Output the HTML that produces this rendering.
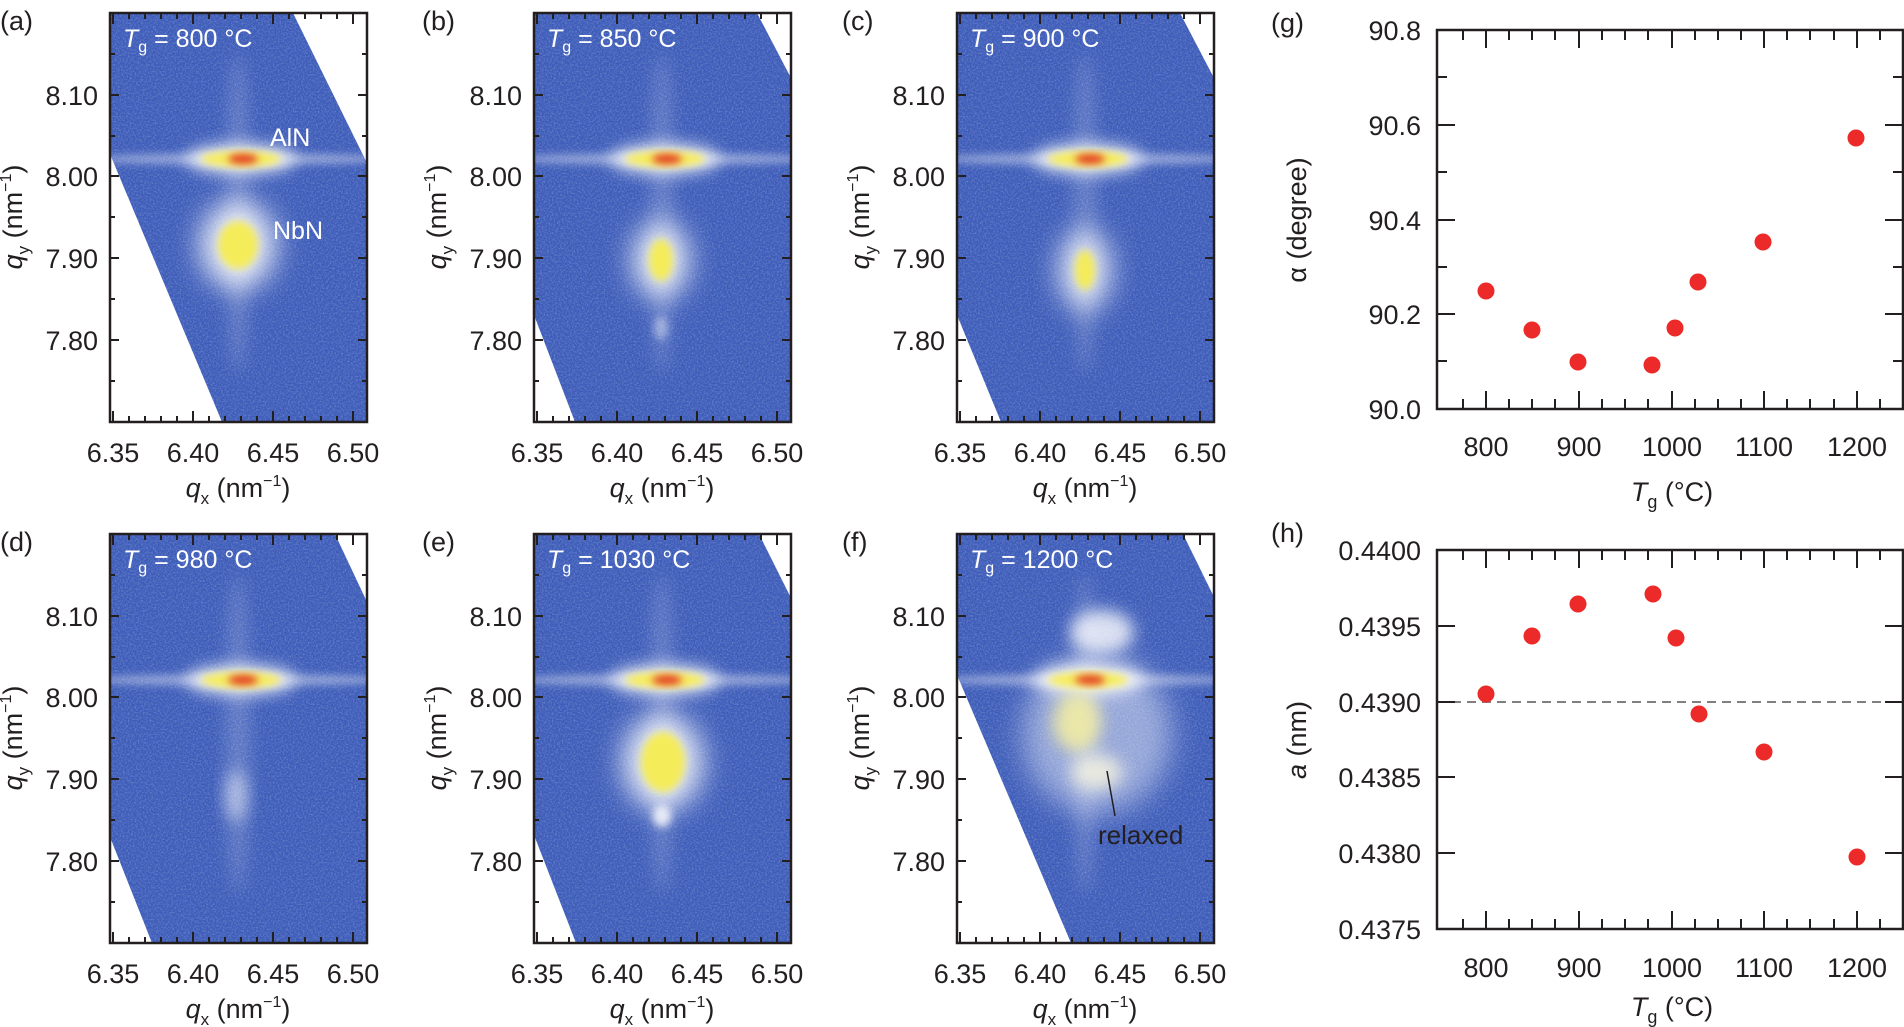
<!DOCTYPE html>
<html><head><meta charset="utf-8"><style>
html,body{margin:0;padding:0;background:#fff;}
svg{display:block;font-family:"Liberation Sans",sans-serif;}
.t{font-size:27px;fill:#231f20;}
.w{font-size:25px;fill:#fff;}
</style></head><body>
<svg width="1904" height="1027" viewBox="0 0 1904 1027" xmlns="http://www.w3.org/2000/svg">
<defs>
<filter id="b4" x="-50%" y="-50%" width="200%" height="200%"><feGaussianBlur stdDeviation="4"/></filter>
<filter id="b8" x="-50%" y="-50%" width="200%" height="200%"><feGaussianBlur stdDeviation="8"/></filter>
<filter id="b14" x="-50%" y="-50%" width="200%" height="200%"><feGaussianBlur stdDeviation="14"/></filter>
<filter id="noise"><feTurbulence type="fractalNoise" baseFrequency="0.6" numOctaves="2" seed="3"/><feColorMatrix type="matrix" values="0 0 0 0 1  0 0 0 0 1  0 0 0 0 1  0 0 0 1.4 -0.55"/></filter>
<clipPath id="box"><rect x="0" y="0" width="257" height="409"/></clipPath>
<g id="frame">
<rect x="0" y="0" width="257" height="409" fill="none" stroke="#231f20" stroke-width="2.5"/>
<path stroke="#231f20" stroke-width="2" fill="none" d="
M0 82h9M0 163h9M0 245h9M0 327h9M257 82h-9M257 163h-9M257 245h-9M257 327h-9
M0 41h5M0 123h5M0 204h5M0 286h5M0 368h5M257 41h-5M257 123h-5M257 204h-5M257 286h-5M257 368h-5
M3 409v-11M83 409v-11M163 409v-11M243 409v-11M3 0v11M83 0v11M163 0v11M243 0v11
M19 409v-6M35 409v-6M51 409v-6M67 409v-6M99 409v-6M115 409v-6M131 409v-6M147 409v-6M179 409v-6M195 409v-6M211 409v-6M227 409v-6
M19 0v6M35 0v6M51 0v6M67 0v6M99 0v6M115 0v6M131 0v6M147 0v6M179 0v6M195 0v6M211 0v6M227 0v6"/>
</g>
<g id="axl">
<text class="t" x="-12" y="92" text-anchor="end">8.10</text>
<text class="t" x="-12" y="173" text-anchor="end">8.00</text>
<text class="t" x="-12" y="255" text-anchor="end">7.90</text>
<text class="t" x="-12" y="337" text-anchor="end">7.80</text>
<text class="t" x="3" y="449" text-anchor="middle">6.35</text>
<text class="t" x="83" y="449" text-anchor="middle">6.40</text>
<text class="t" x="163" y="449" text-anchor="middle">6.45</text>
<text class="t" x="243" y="449" text-anchor="middle">6.50</text>
<text class="t" x="128" y="484" text-anchor="middle"><tspan font-style="italic">q</tspan><tspan font-size="17" dy="7">x</tspan><tspan dy="-7"> (nm</tspan><tspan font-size="16" dy="-11">−1</tspan><tspan dy="11">)</tspan></text>
<text class="t" transform="translate(-88,204) rotate(-90)" text-anchor="middle"><tspan font-style="italic">q</tspan><tspan font-size="17" dy="7">y</tspan><tspan dy="-7"> (nm</tspan><tspan font-size="16" dy="-11">−1</tspan><tspan dy="11">)</tspan></text>
</g>
<g id="alnstreak">
<ellipse cx="131" cy="146" rx="150" ry="6" fill="#fff" opacity="0.4" filter="url(#b4)"/>
<ellipse cx="131" cy="146" rx="55" ry="15" fill="#fff" opacity="0.85" filter="url(#b8)"/>
<ellipse cx="128" cy="200" rx="12" ry="160" fill="#fff" opacity="0.18" filter="url(#b8)"/>
<ellipse cx="131" cy="146" rx="40" ry="8" fill="#f6ec5a" filter="url(#b4)"/>
<ellipse cx="133" cy="146" rx="15" ry="5" fill="#e23a22" filter="url(#b4)"/>
</g>
</defs>

<g transform="translate(110,13)">
<g clip-path="url(#box)">
<rect width="257" height="409" fill="#3d5cb9"/>
<rect width="257" height="409" filter="url(#noise)" opacity="0.35"/>
<use href="#alnstreak"/>
<ellipse cx="128" cy="232" rx="38" ry="44" fill="#fff" opacity="0.85" filter="url(#b14)"/>
<ellipse cx="128" cy="232" rx="20" ry="24" fill="#f4ec58" filter="url(#b4)"/>
<polygon points="0,141 0,409 112,409" fill="#fff"/>
<polygon points="183,0 257,0 257,150" fill="#fff"/>
</g>
<use href="#frame"/><use href="#axl"/>
<text class="w" x="13" y="34"><tspan font-style="italic">T</tspan><tspan font-size="16" dy="5">g</tspan><tspan dy="-5"> = 800 °C</tspan></text>
<text class="w" x="160" y="133" font-size="27">AlN</text>
<text class="w" x="163" y="226" font-size="27">NbN</text>
</g>
<text class="t" x="0" y="30" font-size="29">(a)</text>

<g transform="translate(534,13)">
<g clip-path="url(#box)">
<rect width="257" height="409" fill="#3d5cb9"/>
<rect width="257" height="409" filter="url(#noise)" opacity="0.35"/>
<use href="#alnstreak"/>
<ellipse cx="127" cy="247" rx="28" ry="38" fill="#fff" opacity="0.85" filter="url(#b14)"/>
<ellipse cx="127" cy="247" rx="12" ry="21" fill="#f4ec58" filter="url(#b4)"/>
<ellipse cx="127" cy="315" rx="7" ry="12" fill="#fff" opacity="0.4" filter="url(#b4)"/>
<polygon points="0,302 0,409 41,409" fill="#fff"/>
<polygon points="223,0 257,0 257,65" fill="#fff"/>
</g>
<use href="#frame"/><use href="#axl"/>
<text class="w" x="13" y="34"><tspan font-style="italic">T</tspan><tspan font-size="16" dy="5">g</tspan><tspan dy="-5"> = 850 °C</tspan></text>
</g>
<text class="t" x="422" y="30" font-size="29">(b)</text>

<g transform="translate(957,13)">
<g clip-path="url(#box)">
<rect width="257" height="409" fill="#3d5cb9"/>
<rect width="257" height="409" filter="url(#noise)" opacity="0.35"/>
<use href="#alnstreak"/>
<ellipse cx="128" cy="257" rx="26" ry="40" fill="#fff" opacity="0.8" filter="url(#b14)"/>
<ellipse cx="128" cy="257" rx="10" ry="20" fill="#f4ec58" filter="url(#b4)"/>
<polygon points="0,302 0,409 44,409" fill="#fff"/>
<polygon points="223,0 257,0 257,65" fill="#fff"/>
</g>
<use href="#frame"/><use href="#axl"/>
<text class="w" x="13" y="34"><tspan font-style="italic">T</tspan><tspan font-size="16" dy="5">g</tspan><tspan dy="-5"> = 900 °C</tspan></text>
</g>
<text class="t" x="842" y="30" font-size="29">(c)</text>

<g transform="translate(110,534)">
<g clip-path="url(#box)">
<rect width="257" height="409" fill="#3d5cb9"/>
<rect width="257" height="409" filter="url(#noise)" opacity="0.35"/>
<use href="#alnstreak"/>
<ellipse cx="126" cy="262" rx="11" ry="26" fill="#fff" opacity="0.5" filter="url(#b8)"/>
<polygon points="0,303 0,409 42,409" fill="#fff"/>
<polygon points="225,0 257,0 257,68" fill="#fff"/>
</g>
<use href="#frame"/><use href="#axl"/>
<text class="w" x="13" y="34"><tspan font-style="italic">T</tspan><tspan font-size="16" dy="5">g</tspan><tspan dy="-5"> = 980 °C</tspan></text>
</g>
<text class="t" x="0" y="551" font-size="29">(d)</text>

<g transform="translate(534,534)">
<g clip-path="url(#box)">
<rect width="257" height="409" fill="#3d5cb9"/>
<rect width="257" height="409" filter="url(#noise)" opacity="0.35"/>
<use href="#alnstreak"/>
<ellipse cx="129" cy="228" rx="40" ry="48" fill="#fff" opacity="0.85" filter="url(#b14)"/>
<ellipse cx="129" cy="228" rx="22" ry="30" fill="#f4ec58" filter="url(#b4)"/>
<ellipse cx="128" cy="282" rx="9" ry="11" fill="#fff" opacity="0.8" filter="url(#b4)"/>
<polygon points="0,301 0,409 42,409" fill="#fff"/>
<polygon points="225,0 257,0 257,64" fill="#fff"/>
</g>
<use href="#frame"/><use href="#axl"/>
<text class="w" x="13" y="34"><tspan font-style="italic">T</tspan><tspan font-size="16" dy="5">g</tspan><tspan dy="-5"> = 1030 °C</tspan></text>
</g>
<text class="t" x="422" y="551" font-size="29">(e)</text>

<g transform="translate(957,534)">
<g clip-path="url(#box)">
<rect width="257" height="409" fill="#3d5cb9"/>
<rect width="257" height="409" filter="url(#noise)" opacity="0.35"/>
<ellipse cx="140" cy="200" rx="75" ry="80" fill="#fff" opacity="0.45" filter="url(#b14)"/>
<ellipse cx="145" cy="98" rx="32" ry="22" fill="#fff" opacity="0.8" filter="url(#b8)"/>
<use href="#alnstreak"/>
<ellipse cx="120" cy="188" rx="24" ry="30" fill="#f6f0a0" opacity="0.85" filter="url(#b8)"/>
<ellipse cx="140" cy="238" rx="26" ry="18" fill="#fffbe0" opacity="0.75" filter="url(#b8)"/>
<polygon points="0,141 0,409 114,409" fill="#fff"/>
<polygon points="226,0 257,0 257,63" fill="#fff"/>
</g>
<use href="#frame"/><use href="#axl"/>
<line x1="150" y1="237" x2="158" y2="282" stroke="#231f20" stroke-width="1.5"/>
<text x="141" y="310" font-size="26" fill="#231f20">relaxed</text>
<text class="w" x="13" y="34"><tspan font-style="italic">T</tspan><tspan font-size="16" dy="5">g</tspan><tspan dy="-5"> = 1200 °C</tspan></text>
</g>
<text class="t" x="842" y="551" font-size="29">(f)</text>

<g>
<rect x="1437" y="30" width="466" height="379" fill="none" stroke="#231f20" stroke-width="2.5"/>
<path stroke="#231f20" stroke-width="2" fill="none" d="
M1437 125h18M1437 220h18M1437 314h18M1903 125h-18M1903 220h-18M1903 314h-18
M1437 77h10M1437 172h10M1437 267h10M1437 361h10M1903 77h-10M1903 172h-10M1903 267h-10M1903 361h-10
M1486 409v-18M1579 409v-18M1672 409v-18M1764 409v-18M1857 409v-18M1486 30v18M1579 30v18M1672 30v18M1764 30v18M1857 30v18
M1463 409v-10M1509 409v-10M1532 409v-10M1555 409v-10M1602 409v-10M1625 409v-10M1648 409v-10M1695 409v-10M1718 409v-10M1741 409v-10M1787 409v-10M1810 409v-10M1834 409v-10M1880 409v-10
M1463 30v10M1509 30v10M1532 30v10M1555 30v10M1602 30v10M1625 30v10M1648 30v10M1695 30v10M1718 30v10M1741 30v10M1787 30v10M1810 30v10M1834 30v10M1880 30v10"/>
<text class="t" x="1421" y="40" text-anchor="end">90.8</text>
<text class="t" x="1421" y="135" text-anchor="end">90.6</text>
<text class="t" x="1421" y="230" text-anchor="end">90.4</text>
<text class="t" x="1421" y="324" text-anchor="end">90.2</text>
<text class="t" x="1421" y="419" text-anchor="end">90.0</text>
<text class="t" x="1486" y="456" text-anchor="middle">800</text>
<text class="t" x="1579" y="456" text-anchor="middle">900</text>
<text class="t" x="1672" y="456" text-anchor="middle">1000</text>
<text class="t" x="1764" y="456" text-anchor="middle">1100</text>
<text class="t" x="1857" y="456" text-anchor="middle">1200</text>
<text class="t" x="1672" y="501" text-anchor="middle" font-size="29"><tspan font-style="italic">T</tspan><tspan font-size="18" dy="7">g</tspan><tspan dy="-7"> (°C)</tspan></text>
<text class="t" transform="translate(1306,220) rotate(-90)" text-anchor="middle" font-size="29">α (degree)</text>
<g fill="#ec2a2a">
<circle cx="1486" cy="291" r="8.5"/><circle cx="1532" cy="330" r="8.5"/><circle cx="1578" cy="362" r="8.5"/>
<circle cx="1652" cy="365" r="8.5"/><circle cx="1675" cy="328" r="8.5"/><circle cx="1698" cy="282" r="8.5"/>
<circle cx="1763" cy="242" r="8.5"/><circle cx="1856" cy="138" r="8.5"/>
</g>
</g>
<text class="t" x="1271" y="32" font-size="29">(g)</text>

<g>
<line x1="1437" y1="702" x2="1903" y2="702" stroke="#808080" stroke-width="2" stroke-dasharray="9,6"/>
<rect x="1437" y="550" width="466" height="379" fill="none" stroke="#231f20" stroke-width="2.5"/>
<path stroke="#231f20" stroke-width="2" fill="none" d="
M1437 626h18M1437 702h18M1437 777h18M1437 853h18M1903 626h-18M1903 702h-18M1903 777h-18M1903 853h-18
M1486 929v-18M1579 929v-18M1672 929v-18M1764 929v-18M1857 929v-18M1486 550v18M1579 550v18M1672 550v18M1764 550v18M1857 550v18
M1463 929v-10M1509 929v-10M1532 929v-10M1555 929v-10M1602 929v-10M1625 929v-10M1648 929v-10M1695 929v-10M1718 929v-10M1741 929v-10M1787 929v-10M1810 929v-10M1834 929v-10M1880 929v-10
M1463 550v10M1509 550v10M1532 550v10M1555 550v10M1602 550v10M1625 550v10M1648 550v10M1695 550v10M1718 550v10M1741 550v10M1787 550v10M1810 550v10M1834 550v10M1880 550v10"/>
<text class="t" x="1421" y="560" text-anchor="end">0.4400</text>
<text class="t" x="1421" y="636" text-anchor="end">0.4395</text>
<text class="t" x="1421" y="712" text-anchor="end">0.4390</text>
<text class="t" x="1421" y="787" text-anchor="end">0.4385</text>
<text class="t" x="1421" y="863" text-anchor="end">0.4380</text>
<text class="t" x="1421" y="939" text-anchor="end">0.4375</text>
<text class="t" x="1486" y="977" text-anchor="middle">800</text>
<text class="t" x="1579" y="977" text-anchor="middle">900</text>
<text class="t" x="1672" y="977" text-anchor="middle">1000</text>
<text class="t" x="1764" y="977" text-anchor="middle">1100</text>
<text class="t" x="1857" y="977" text-anchor="middle">1200</text>
<text class="t" x="1672" y="1016" text-anchor="middle" font-size="29"><tspan font-style="italic">T</tspan><tspan font-size="18" dy="7">g</tspan><tspan dy="-7"> (°C)</tspan></text>
<text class="t" transform="translate(1306,740) rotate(-90)" text-anchor="middle" font-size="29"><tspan font-style="italic">a</tspan> (nm)</text>
<g fill="#ec2a2a">
<circle cx="1486" cy="694" r="8.5"/><circle cx="1532" cy="636" r="8.5"/><circle cx="1578" cy="604" r="8.5"/>
<circle cx="1653" cy="594" r="8.5"/><circle cx="1676" cy="638" r="8.5"/><circle cx="1699" cy="714" r="8.5"/>
<circle cx="1764" cy="752" r="8.5"/><circle cx="1857" cy="857" r="8.5"/>
</g>
</g>
<text class="t" x="1271" y="542" font-size="29">(h)</text>
</svg>
</body></html>
